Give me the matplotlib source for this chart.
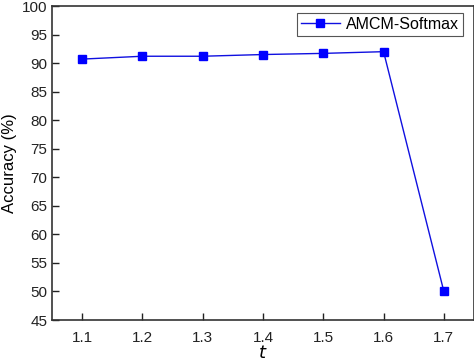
import matplotlib
matplotlib.use("Agg")
import matplotlib.pyplot as plt

plt.rcParams["font.family"] = ["Liberation Sans", "DejaVu Sans"]

t_values = [1.1, 1.2, 1.3, 1.4, 1.5, 1.6, 1.7]
accuracy = [90.7, 91.2, 91.2, 91.5, 91.7, 92.0, 50.0]
series_label = "AMCM-Softmax"
y_ticks = [45, 50, 55, 60, 65, 70, 75, 80, 85, 90, 95, 100]

fig = plt.figure(figsize=(4.74, 3.63), dpi=100)
ax = fig.add_axes([52 / 474, 1 - 320 / 363, (474 - 52) / 474, (320 - 6) / 363])

ax.plot(t_values, accuracy, color="#1010e0", lw=1.0, marker="s", ms=5.5,
        markerfacecolor="#0000ff", markeredgecolor="#0000ff", label=series_label)

ax.set_xlim(1.05, 1.75)
ax.set_ylim(45, 100)
ax.set_xticks(t_values)
ax.set_xticklabels([f"{v:.1f}" for v in t_values])
ax.set_yticks(y_ticks)
ax.tick_params(direction="in", length=5, width=1, labelsize=11, colors="#222222")
ax.tick_params(axis="x", pad=8)
for s in ax.spines.values():
    s.set_linewidth(1.2)
    s.set_color("#333333")

ax.set_xlabel("$t$", fontsize=13, labelpad=0)
ax.set_ylabel("Accuracy (%)", fontsize=12, labelpad=3)

leg = ax.legend(loc="upper right", fontsize=11.5, fancybox=False, framealpha=1,
                edgecolor="#555555", handlelength=2.4, handletextpad=0.4,
                borderpad=0.25, borderaxespad=0, bbox_to_anchor=(0.974, 0.978))
leg.get_frame().set_linewidth(0.8)

fig.savefig("out.png", dpi=100)
